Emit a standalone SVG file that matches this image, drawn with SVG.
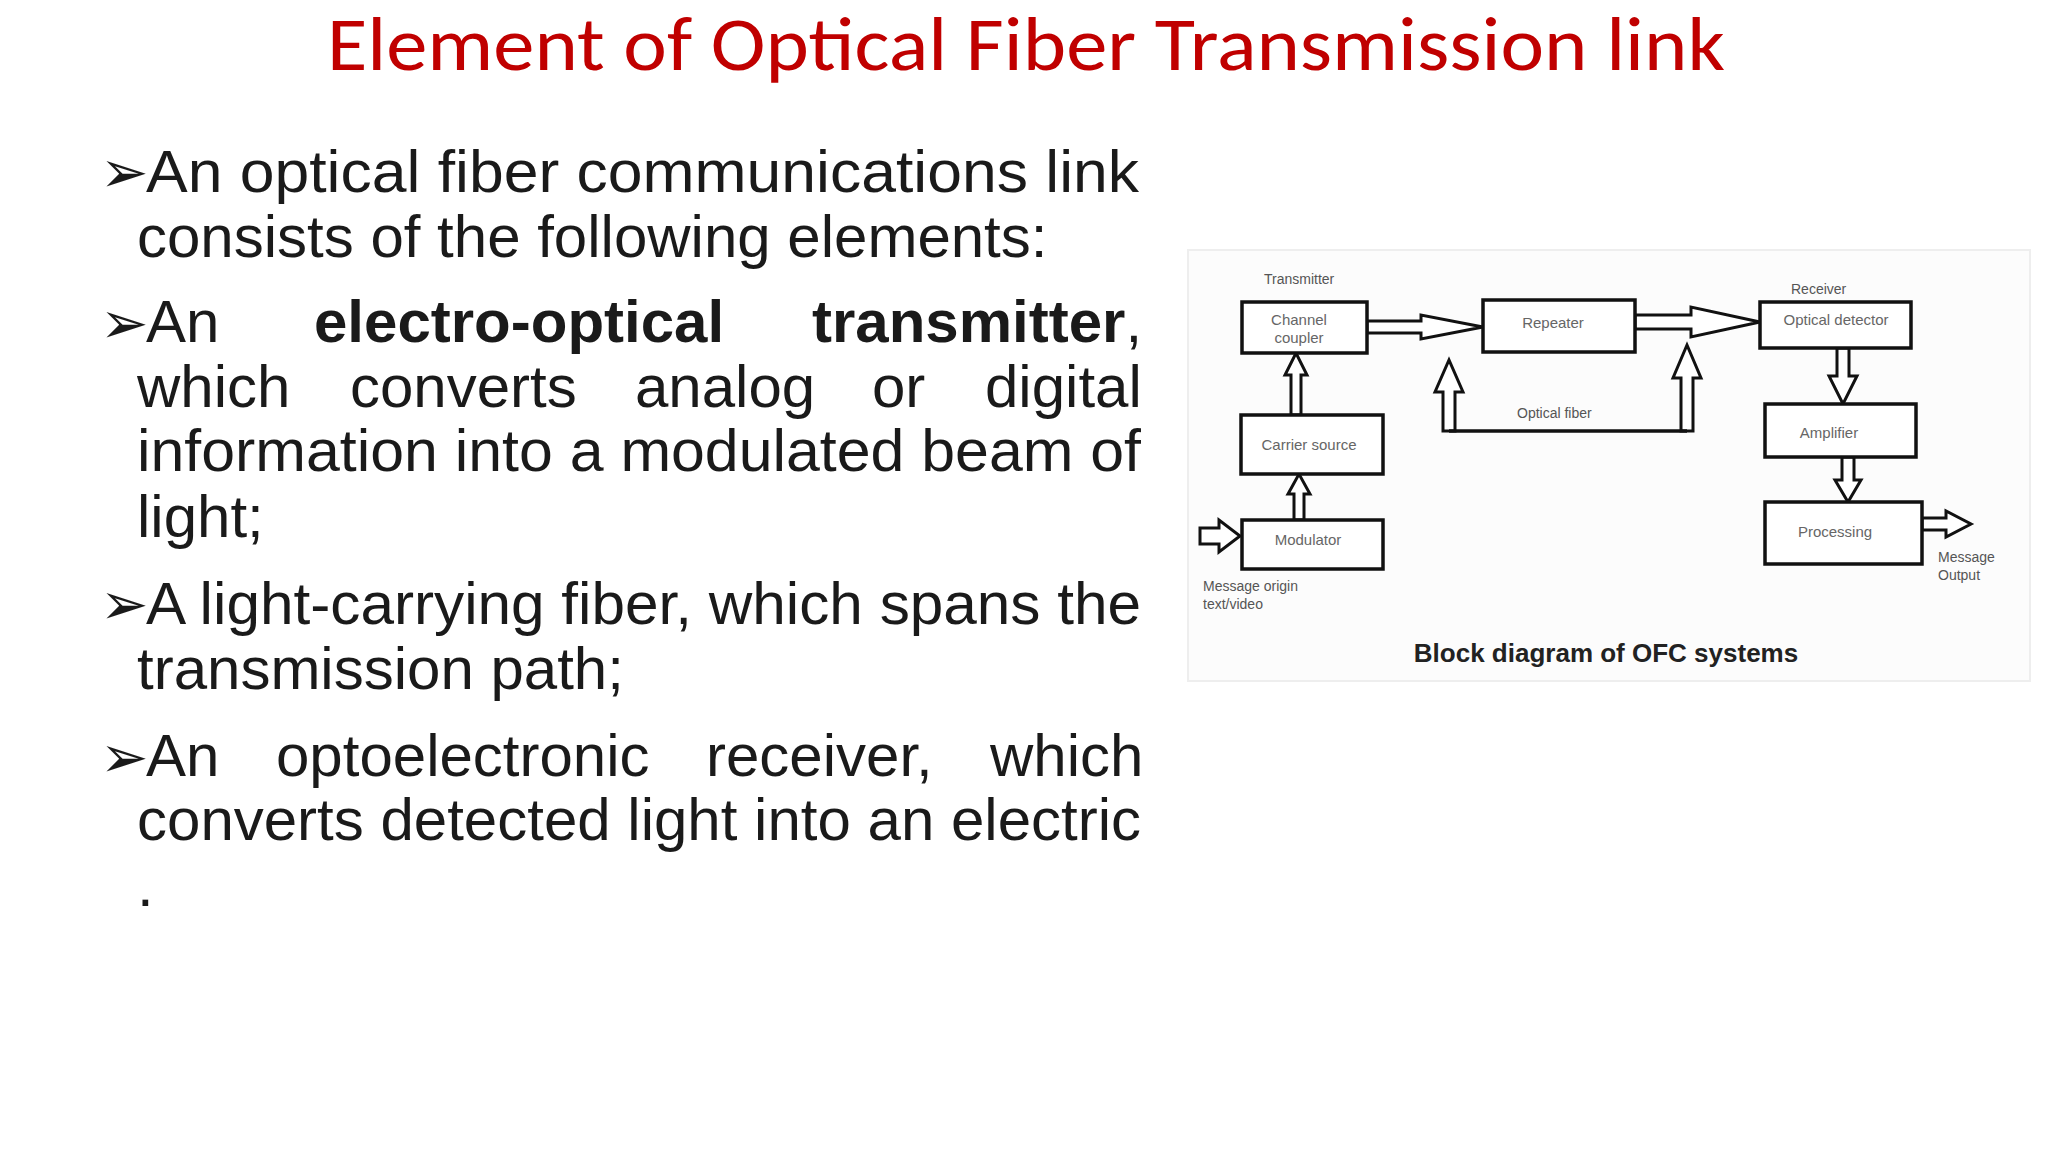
<svg xmlns="http://www.w3.org/2000/svg" width="2048" height="1152" viewBox="0 0 2048 1152">
<style>
.t{font-family:"Liberation Sans",Arial,sans-serif;font-size:60px;fill:#1a1a1a}
.b{font-weight:bold}
.bul{font-family:"DejaVu Sans",sans-serif;font-size:58px;fill:#1a1a1a}
.box{fill:#fff;stroke:#111;stroke-width:3.5}
.ar{fill:#fff;stroke:#111;stroke-width:3}
.s{font-family:"Liberation Sans",Arial,sans-serif;font-size:14px;fill:#555}
.bt{font-family:"Liberation Sans",Arial,sans-serif;font-size:15px;fill:#666;text-anchor:middle}
</style>
<rect width="2048" height="1152" fill="#fff"/>
<text x="1026" y="70" text-anchor="middle" font-family="Carlito,'Open Sans','Liberation Sans',sans-serif" font-size="76" fill="#C00000" textLength="1398" lengthAdjust="spacingAndGlyphs">Element of Optical Fiber Transmission link</text>
<g id="bullets">
<text class="bul" x="100" y="192">➢</text>
<text class="t" x="146" y="192" textLength="993" lengthAdjust="spacingAndGlyphs">An optical fiber communications link</text>
<text class="t" x="137" y="257">consists of the following elements:</text>
<text class="bul" x="100" y="343">➢</text>
<text class="t" x="146" y="342">An</text>
<text class="t b" x="314" y="342">electro-optical</text>
<text class="t" x="812" y="342"><tspan class="b">transmitter</tspan>,</text>
<text class="t" y="407"><tspan x="137">which</tspan><tspan x="350">converts</tspan><tspan x="635">analog</tspan><tspan x="872">or</tspan><tspan x="985">digital</tspan></text>
<text class="t" x="137" y="471" textLength="1004" lengthAdjust="spacingAndGlyphs">information into a modulated beam of</text>
<text class="t" x="137" y="537">light;</text>
<text class="bul" x="100" y="624">➢</text>
<text class="t" x="146" y="624" textLength="995" lengthAdjust="spacingAndGlyphs">A light-carrying fiber, which spans the</text>
<text class="t" x="137" y="689">transmission path;</text>
<text class="bul" x="100" y="777">➢</text>
<text class="t" y="776"><tspan x="146">An</tspan><tspan x="276">optoelectronic</tspan><tspan x="706">receiver,</tspan><tspan x="990">which</tspan></text>
<text class="t" x="137" y="840" textLength="1004" lengthAdjust="spacingAndGlyphs">converts detected light into an electric</text>
<text class="t" x="137" y="906">.</text>
</g>
<g transform="translate(-9,0)">
<rect x="1197" y="250" width="842" height="431" fill="#fcfcfc" stroke="#eee" stroke-width="2"/>
<g id="connectors">
<polygon class="ar" points="1376,321 1430,321 1430,315 1492,327 1430,339 1430,333 1376,333"/>
<polygon class="ar" points="1644,315 1700,315 1700,307 1769,322 1700,337 1700,329 1644,329"/>
<polygon class="ar" points="1300,415 1300,375 1294,375 1305,353 1316,375 1310,375 1310,415"/>
<polygon class="ar" points="1303,520 1303,494 1297,494 1308,474 1319,494 1313,494 1313,520"/>
<polygon class="ar" points="1209,528 1228,528 1228,520 1249,536 1228,552 1228,544 1209,544"/>
<polygon class="ar" points="1452,431 1452,392 1444,392 1458,360 1472,392 1464,392 1464,431"/>
<polygon class="ar" points="1690,431 1690,378 1682,378 1696,345 1710,378 1702,378 1702,431"/>
<line x1="1458" y1="431" x2="1696" y2="431" stroke="#111" stroke-width="3.5"/>
<polygon class="ar" points="1846,348 1846,376 1838,376 1852,404 1866,376 1858,376 1858,348"/>
<polygon class="ar" points="1851,457 1851,480 1844,480 1857,502 1870,480 1863,480 1863,457"/>
<polygon class="ar" points="1931,518 1955,518 1955,511 1980,524 1955,537 1955,530 1931,530"/>
</g>
<g id="channel"><rect class="box" x="1251" y="302" width="125" height="51"/><text class="bt" x="1308" y="325">Channel</text><text class="bt" x="1308" y="343">coupler</text></g>
<g id="repeater"><rect class="box" x="1492" y="300" width="152" height="52"/><text class="bt" x="1562" y="328">Repeater</text></g>
<g id="detector"><rect class="box" x="1769" y="302" width="151" height="46"/><text class="bt" x="1845" y="325">Optical detector</text></g>
<g id="carrier"><rect class="box" x="1250" y="415" width="142" height="59"/><text class="bt" x="1318" y="450">Carrier source</text></g>
<g id="modulator"><rect class="box" x="1251" y="520" width="141" height="49"/><text class="bt" x="1317" y="545">Modulator</text></g>
<g id="amplifier"><rect class="box" x="1774" y="404" width="151" height="53"/><text class="bt" x="1838" y="438">Amplifier</text></g>
<g id="processing"><rect class="box" x="1774" y="502" width="157" height="62"/><text class="bt" x="1844" y="537">Processing</text></g>
<g id="labels">
<text class="s" x="1273" y="284">Transmitter</text>
<text class="s" x="1800" y="294">Receiver</text>
<text class="s" x="1526" y="418">Optical fiber</text>
<text class="s" x="1212" y="591">Message origin</text>
<text class="s" x="1212" y="609">text/video</text>
<text class="s" x="1947" y="562">Message</text>
<text class="s" x="1947" y="580">Output</text>
<text x="1615" y="662" text-anchor="middle" font-family="'Liberation Sans',Arial,sans-serif" font-weight="bold" font-size="26" fill="#222">Block diagram of OFC systems</text>
</g>
</g>
</svg>
